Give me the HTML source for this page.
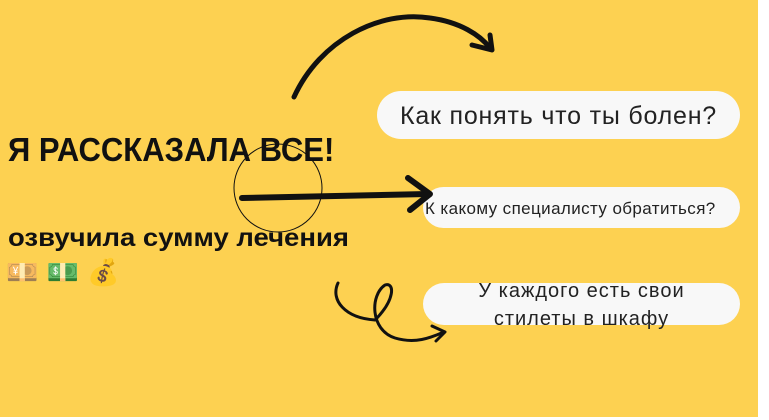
<!DOCTYPE html>
<html><head><meta charset="utf-8"><style>
body{margin:0;width:769px;height:420px;overflow:hidden;background:#fff;}
.bg{position:absolute;left:0;top:0;width:758px;height:417px;background:#FDD151;}
.pill{position:absolute;background:#f8f8f8;border-radius:30px;font-family:"Liberation Sans","DejaVu Sans",sans-serif;color:#222;text-align:center;white-space:nowrap;}
.t{position:absolute;font-family:"Liberation Sans",sans-serif;font-weight:bold;color:#111;white-space:nowrap;transform-origin:left;}
</style></head><body>
<div class="bg"></div>
<div class="pill" style="left:377px;top:91px;width:363px;height:48px;line-height:50px;font-size:25px;letter-spacing:0.8px;">Как понять что ты болен?</div>
<div class="pill" style="left:423px;top:187px;width:317px;height:41px;line-height:44px;font-size:17px;letter-spacing:0.4px;text-align:left;"><span style="margin-left:2px">К какому специалисту обратиться?</span></div>
<div class="pill" style="left:423px;top:283px;width:317px;height:42px;font-size:20px;letter-spacing:1px;line-height:28px;"><div style="margin-top:-6px">У каждого есть свои<br>стилеты в шкафу</div></div>
<div class="t" style="left:8px;top:131px;font-size:33px;transform:scaleX(0.94);">Я РАССКАЗАЛА ВСЕ!</div>
<div class="t" style="left:8px;top:224px;font-size:25px;transform:scaleX(1.1);">озвучила сумму лечения</div>
<div style="position:absolute;left:6px;top:258px;font-size:26px;font-family:'DejaVu Sans',sans-serif;">💴 💵 💰</div>
<svg width="769" height="420" style="position:absolute;left:0;top:0" fill="none" stroke="#111" stroke-linecap="round" stroke-linejoin="round">
<path d="M294,97 C320,40 380,10 430,18 C460,22 480,35 490,48" stroke-width="5"/>
<path d="M472,45 L492,50 L490,35" stroke-width="5"/>
<path d="M242,198 L428,194" stroke-width="6"/>
<path d="M408,178 L430,194 L410,210" stroke-width="6"/>
<circle cx="278" cy="188" r="44" stroke-width="1"/>
<path d="M338,283 C330,300 345,318 375,320 C395,300 395,282 385,285 C370,295 370,330 395,338 C415,344 430,338 444,332" stroke-width="3"/>
<path d="M432,326 L445,332 L436,341" stroke-width="3"/>
</svg>
</body></html>
